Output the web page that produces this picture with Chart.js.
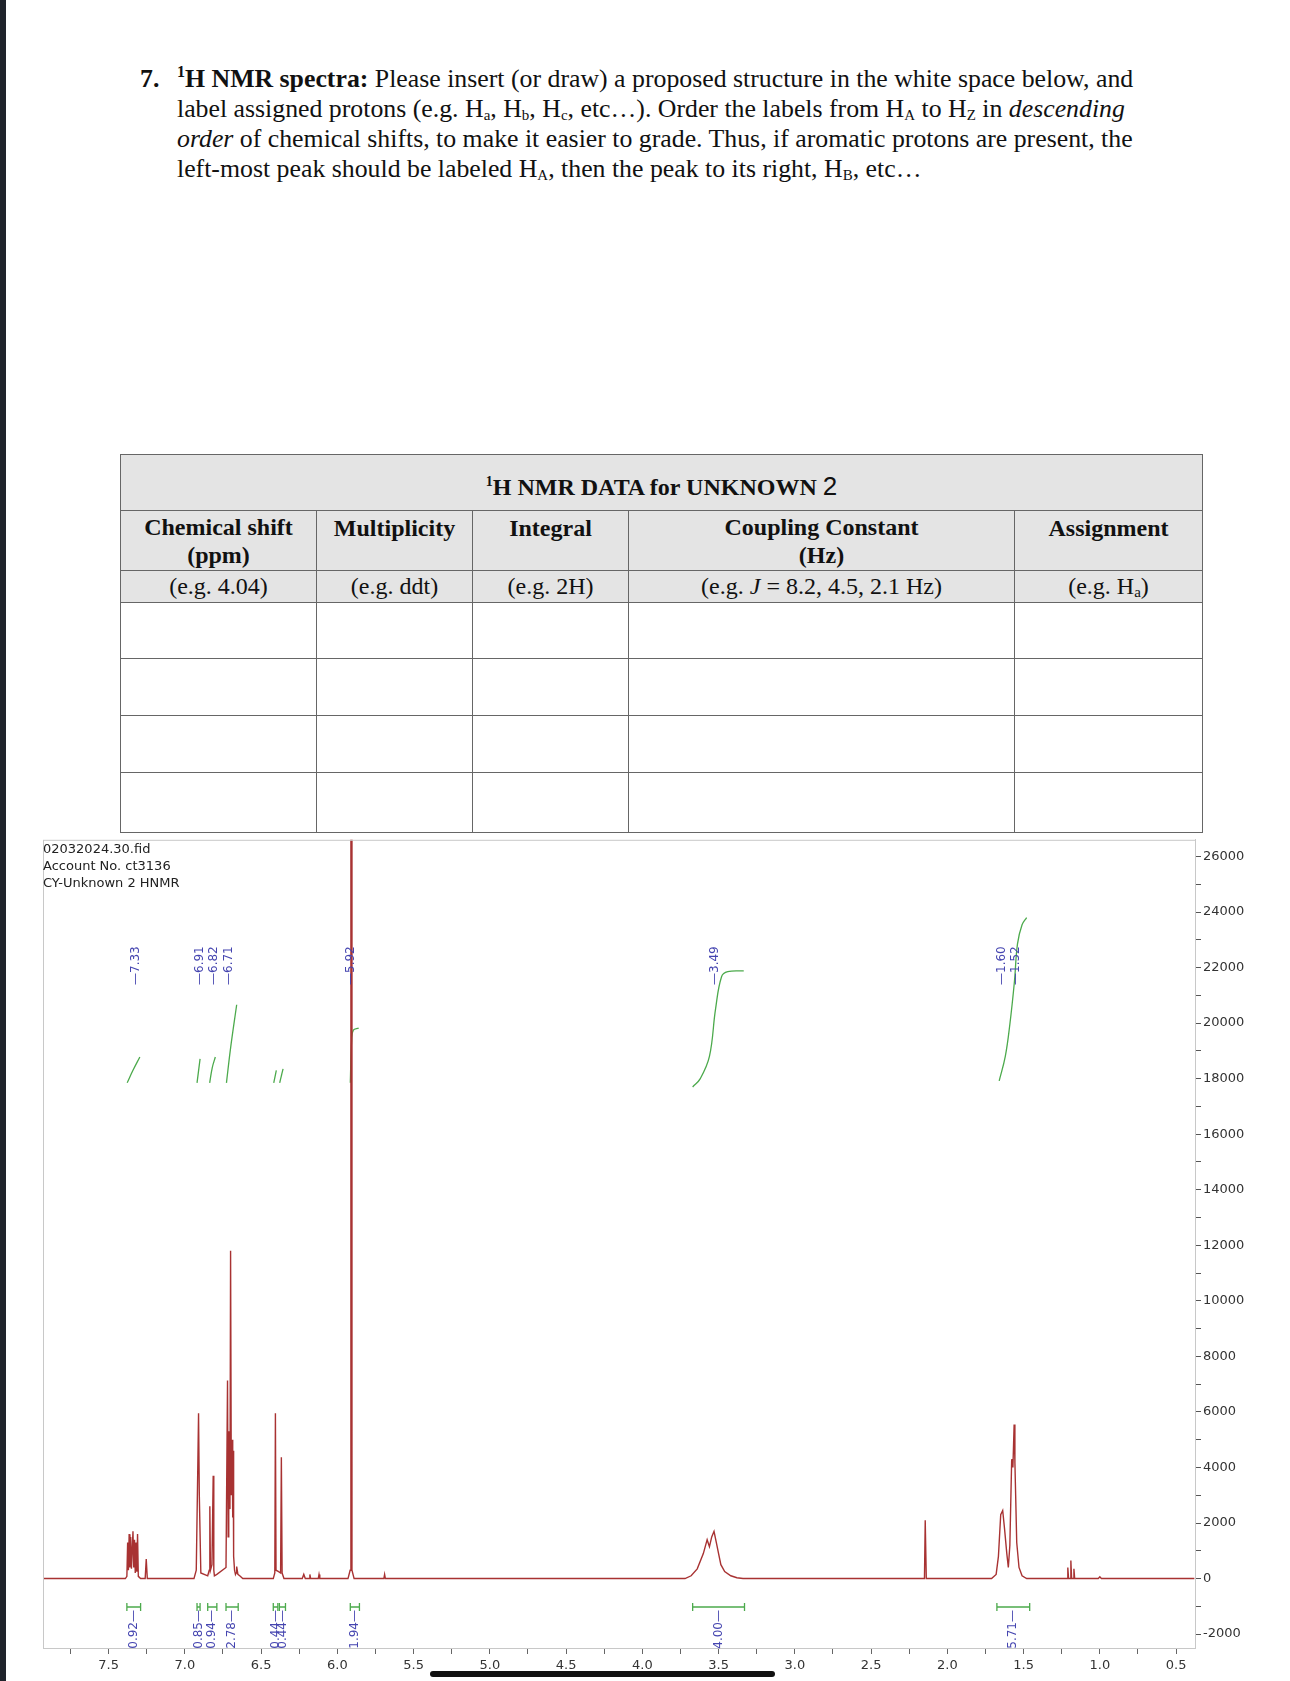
<!DOCTYPE html>
<html><head><meta charset="utf-8">
<script src="https://cdn.jsdelivr.net/npm/chart.js@4"></script>
<style>
body{margin:0;width:1290px;height:1681px;background:#fff;position:relative;overflow:hidden;font-family:"Liberation Serif",serif;}
#strip{position:absolute;left:0;top:0;width:6px;height:1681px;background:#1f232b;}
#q{position:absolute;left:140px;top:64px;font-size:25.8px;line-height:30px;color:#111;width:1150px;}
#q .num{position:absolute;left:0;top:0;font-weight:bold;}
#q .txt{margin-left:37px;}
sup{line-height:0;}
sub{font-size:15px;vertical-align:-3px;line-height:0;}
table{position:absolute;left:120px;top:454px;width:1083px;border-collapse:collapse;font-size:24px;color:#111;}
td{border:1.3px solid #666;text-align:center;padding:0;vertical-align:middle;}
.g td{background:#e4e4e4;}
#info{position:absolute;left:43px;top:840px;font-family:"DejaVu Sans",sans-serif;font-size:13px;line-height:17px;color:#222;}
#cv{position:absolute;left:0;top:830px;}
</style></head><body>
<div id="strip"></div>
<div id="q"><span class="num">7.</span><div class="txt"><b><sup style="font-size:16px">1</sup>H NMR spectra:</b> Please insert (or draw) a proposed structure in the white space below, and<br>label assigned protons (e.g. H<sub>a</sub>, H<sub>b</sub>, H<sub>c</sub>, etc…). Order the labels from H<sub>A</sub> to H<sub>Z</sub> in <i>descending</i><br><i>order</i> of chemical shifts, to make it easier to grade. Thus, if aromatic protons are present, the<br>left-most peak should be labeled H<sub>A</sub>, then the peak to its right, H<sub>B</sub>, etc…</div></div>
<table>
<tr class="g" style="height:56px"><td colspan="5" style="font-weight:bold;padding-top:8px"><sup style="font-size:14px">1</sup>H NMR DATA for UNKNOWN <span style="font-family:'Liberation Sans';font-weight:normal;font-size:26px">2</span></td></tr>
<tr class="g" style="height:60px;font-weight:bold"><td style="width:195px;line-height:28px">Chemical shift<br>(ppm)</td><td style="width:155px;vertical-align:top;padding-top:4px">Multiplicity</td><td style="width:155px;vertical-align:top;padding-top:4px">Integral</td><td style="width:385px;line-height:28px">Coupling Constant<br>(Hz)</td><td style="vertical-align:top;padding-top:4px">Assignment</td></tr>
<tr class="g" style="height:32px"><td>(e.g. 4.04)</td><td>(e.g. ddt)</td><td>(e.g. 2H)</td><td>(e.g. <i>J</i> = 8.2, 4.5, 2.1 Hz)</td><td>(e.g. H<sub>a</sub>)</td></tr>
<tr style="height:56px"><td></td><td></td><td></td><td></td><td></td></tr>
<tr style="height:57px"><td></td><td></td><td></td><td></td><td></td></tr>
<tr style="height:57px"><td></td><td></td><td></td><td></td><td></td></tr>
<tr style="height:60px"><td></td><td></td><td></td><td></td><td></td></tr>
</table>
<canvas id="cv" width="1290" height="851" style="width:1290px;height:851px"></canvas>
<div id="info">02032024.30.fid<br>Account No. ct3136<br>CY-Unknown 2 HNMR</div>
<script>
// spectrum points [ppm, intensity], by region
const region733 = [[7.93,0],[7.39,0],[7.38,80],[7.375,1300],[7.37,300],[7.365,1600],[7.36,400],[7.355,1500],[7.35,350],[7.34,1700],[7.335,400],[7.33,1400],[7.325,200],[7.32,1300],[7.315,250],[7.31,1600],[7.305,80],[7.29,0],[7.26,0],[7.253,700],[7.246,0]];
const region691 = [[6.94,0],[6.925,300],[6.915,4000],[6.91,5950],[6.905,3000],[6.895,200],[6.85,100],[6.84,300],[6.836,2600],[6.832,300],[6.822,500],[6.814,3700],[6.81,300],[6.806,100],[6.79,150]];
const region671 = [[6.73,400],[6.72,7130],[6.716,1500],[6.712,5300],[6.704,2500],[6.70,11800],[6.695,3000],[6.69,5000],[6.686,2200],[6.683,4600],[6.68,800],[6.674,300],[6.668,150],[6.664,200],[6.66,430],[6.652,150],[6.64,100],[6.62,0]];
const region640 = [[6.42,0],[6.41,200],[6.406,5950],[6.402,300],[6.385,250],[6.372,200],[6.367,4370],[6.362,200],[6.35,0],[6.23,0],[6.22,150],[6.21,0],[6.185,0],[6.18,150],[6.175,0],[6.125,0],[6.12,150],[6.115,0]];
const region592 = [[5.93,0],[5.916,300],[5.911,28000],[5.909,28000],[5.904,300],[5.89,0],[5.695,0],[5.69,150],[5.685,0]];
const region349 = [[3.72,0],[3.68,100],[3.64,350],[3.60,900],[3.575,1400],[3.56,1150],[3.545,1500],[3.53,1700],[3.515,1300],[3.50,900],[3.485,500],[3.46,250],[3.42,100],[3.38,30],[3.34,0]];
const region214 = [[2.15,0],[2.145,2100],[2.138,0]];
const region160 = [[1.71,0],[1.68,150],[1.665,800],[1.65,2300],[1.637,2450],[1.625,1800],[1.61,900],[1.60,400],[1.59,1200],[1.578,4300],[1.57,4000],[1.562,5550],[1.557,4200],[1.552,3000],[1.545,1300],[1.53,400],[1.51,100],[1.48,0]];
const region120 = [[1.215,0],[1.21,400],[1.205,0],[1.195,0],[1.19,650],[1.185,0],[1.175,0],[1.17,350],[1.165,0],[1.01,0],[1.0,60],[0.99,0],[0.38,0]];
// integral curves [ppm, value]
const integrals = [
 [[7.378,17850],[7.34,18300],[7.295,18780]],
 [[6.92,17850],[6.90,18710]],
 [[6.837,17850],[6.82,18400],[6.80,18780]],
 [[6.727,17850],[6.70,19100],[6.66,20660]],
 [[6.417,17850],[6.40,18300]],
 [[6.378,17850],[6.356,18350]],
 [[5.915,17850],[5.906,19400],[5.895,19750],[5.86,19820]],
 [[3.67,17700],[3.62,18000],[3.56,18800],[3.52,20500],[3.48,21680],[3.44,21850],[3.335,21880]],
 [[1.66,17920],[1.62,18800],[1.59,19960],[1.56,21500],[1.54,22850],[1.51,23540],[1.48,23800]]];
const integralLabels = ["0.92","0.85","0.94","2.78","0.44","0.44","1.94","4.00","5.71"];
const bracketFrom = [7.38,6.92,6.85,6.73,6.42,6.38,5.915,3.67,1.675];
const bracketTo = [7.29,6.90,6.79,6.65,6.39,6.34,5.855,3.33,1.46];
const peakLabels = ["7.33","6.91","6.82","6.71","5.92","3.49","1.60","1.52"];
const peakPpm = [7.32,6.90,6.81,6.71,5.91,3.525,1.64,1.55];
const xTicks = [7.5,7.0,6.5,6.0,5.5,5.0,4.5,4.0,3.5,3.0,2.5,2.0,1.5,1.0,0.5];

const spectrum=[].concat(region733,region691,region671,region640,region592,[[5.6,0],[3.75,0]],region349,[[3.3,0],[2.16,0]],region214,[[2.13,0],[1.72,0]],region160,[[1.3,0]],region120);
const datasets=[{data:spectrum.map(p=>({x:p[0],y:p[1]})),borderColor:'#a83232',borderWidth:1.4,pointRadius:0,tension:0}];
integrals.forEach(a=>datasets.push({data:a.map(p=>({x:p[0],y:p[1]})),borderColor:'#4caa4c',borderWidth:1.3,pointRadius:0,tension:0.4}));

const deco={id:'deco',afterDraw(c){
 const ctx=c.ctx,x=c.scales.x,a=c.chartArea;
 ctx.save();
 ctx.strokeStyle='#c8c8c8';ctx.lineWidth=1;ctx.strokeRect(a.left+0.5,a.top+0.5,a.right-a.left,a.bottom-a.top);
 ctx.font='12px "DejaVu Sans", sans-serif';
 peakPpm.forEach((p,i)=>{const px=x.getPixelForValue(p);
  ctx.save();ctx.translate(px,155);ctx.rotate(-Math.PI/2);ctx.fillStyle='#4545b0';ctx.textAlign='left';ctx.textBaseline='middle';ctx.fillText('—'+peakLabels[i],0,0);ctx.restore();});
 bracketFrom.forEach((f,i)=>{const x1=x.getPixelForValue(f),x2=x.getPixelForValue(bracketTo[i]),y=777;
  ctx.strokeStyle='#4caa4c';ctx.lineWidth=1.3;ctx.beginPath();ctx.moveTo(x1,y);ctx.lineTo(x2,y);ctx.moveTo(x1,y-4);ctx.lineTo(x1,y+4);ctx.moveTo(x2,y-4);ctx.lineTo(x2,y+4);ctx.stroke();
  const cx=(x1+x2)/2;
  ctx.save();ctx.translate(cx,780);ctx.rotate(-Math.PI/2);ctx.fillStyle='#4545b0';ctx.textAlign='right';ctx.textBaseline='middle';ctx.fillText(integralLabels[i]+'—',0,0);ctx.restore();});
 ctx.fillStyle='#111';ctx.beginPath();ctx.roundRect(430,841,345,6,3);ctx.fill();
 ctx.restore();}};

new Chart(document.getElementById('cv'),{type:'line',data:{datasets},
 options:{responsive:false,animation:false,devicePixelRatio:1,
  layout:{padding:{left:43,top:8,right:0,bottom:0}},
  plugins:{legend:{display:false},tooltip:{enabled:false}},
  scales:{
   x:{type:'linear',reverse:true,min:0.376,max:7.93,
     afterBuildTicks(s){s.ticks=[];for(let v=7.75;v>=0.4;v-=0.25)s.ticks.push({value:Math.round(v*100)/100});},
     afterFit(s){s.height=33;},
     grid:{drawOnChartArea:false,drawTicks:true,tickLength:6,color:'#666'},border:{display:false},
     ticks:{autoSkip:false,maxRotation:0,color:'#333',font:{family:'DejaVu Sans',size:13},padding:4,
       callback:v=>xTicks.some(t=>Math.abs(t-v)<1e-6)?v.toFixed(1):''}},
   y:{position:'right',min:-2500,max:26600,
     afterBuildTicks(s){s.ticks=[];for(let v=-2000;v<=26000;v+=1000)s.ticks.push({value:v});},
     afterFit(s){s.width=95;},
     grid:{drawOnChartArea:false,drawTicks:true,tickLength:6,color:'#555'},border:{display:true,color:'#c8c8c8'},
     ticks:{color:'#333',font:{family:'DejaVu Sans',size:13},padding:2,callback:v=>v%2000===0?String(v):''}}}},
 plugins:[deco]});
</script></body></html>
